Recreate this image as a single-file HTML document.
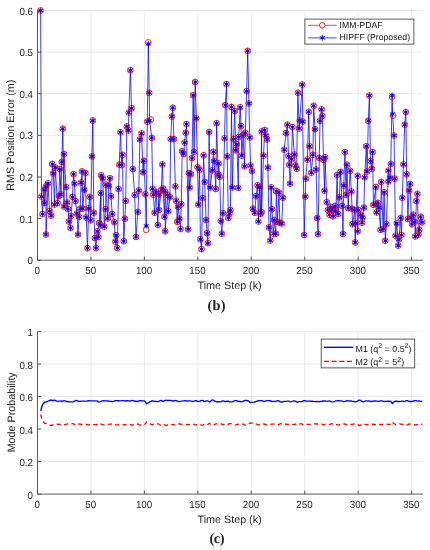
<!DOCTYPE html>
<html><head><meta charset="utf-8"><title>Figure</title>
<style>html,body{margin:0;padding:0;background:#fff}svg{display:block}</style>
</head><body>
<svg width="430" height="550" viewBox="0 0 430 550" font-family="'Liberation Sans', Arial, sans-serif" text-rendering="geometricPrecision">
<rect width="430" height="550" fill="#fff"/>
<path d="M90.94 10.5V260.2M144.39 10.5V260.2M197.83 10.5V260.2M251.28 10.5V260.2M304.72 10.5V260.2M358.17 10.5V260.2M411.61 10.5V260.2M37.5 218.58H422.3M37.5 176.97H422.3M37.5 135.35H422.3M37.5 93.73H422.3M37.5 52.12H422.3M37.5 10.50H422.3" stroke="#e4e4e4" stroke-width="0.8" fill="none"/>
<path d="M37.5 10.5V260.2H422.8M37.50 260.2v-3.6M90.94 260.2v-3.6M144.39 260.2v-3.6M197.83 260.2v-3.6M251.28 260.2v-3.6M304.72 260.2v-3.6M358.17 260.2v-3.6M411.61 260.2v-3.6M37.5 260.20h3.6M37.5 218.58h3.6M37.5 176.97h3.6M37.5 135.35h3.6M37.5 93.73h3.6M37.5 52.12h3.6M37.5 10.50h3.6" stroke="#484848" stroke-width="0.9" fill="none"/>
<text transform="translate(37.20 274.4) scale(1 1.05)" font-size="9.8" fill="#262626" text-anchor="middle">0</text>
<text transform="translate(90.64 274.4) scale(1 1.05)" font-size="9.8" fill="#262626" text-anchor="middle">50</text>
<text transform="translate(144.09 274.4) scale(1 1.05)" font-size="9.8" fill="#262626" text-anchor="middle">100</text>
<text transform="translate(197.53 274.4) scale(1 1.05)" font-size="9.8" fill="#262626" text-anchor="middle">150</text>
<text transform="translate(250.98 274.4) scale(1 1.05)" font-size="9.8" fill="#262626" text-anchor="middle">200</text>
<text transform="translate(304.42 274.4) scale(1 1.05)" font-size="9.8" fill="#262626" text-anchor="middle">250</text>
<text transform="translate(357.87 274.4) scale(1 1.05)" font-size="9.8" fill="#262626" text-anchor="middle">300</text>
<text transform="translate(411.31 274.4) scale(1 1.05)" font-size="9.8" fill="#262626" text-anchor="middle">350</text>
<text transform="translate(33.0 264.20) scale(1 1.05)" font-size="9.8" fill="#262626" text-anchor="end">0</text>
<text transform="translate(33.0 222.58) scale(1 1.05)" font-size="9.8" fill="#262626" text-anchor="end">0.1</text>
<text transform="translate(33.0 180.97) scale(1 1.05)" font-size="9.8" fill="#262626" text-anchor="end">0.2</text>
<text transform="translate(33.0 139.35) scale(1 1.05)" font-size="9.8" fill="#262626" text-anchor="end">0.3</text>
<text transform="translate(33.0 97.73) scale(1 1.05)" font-size="9.8" fill="#262626" text-anchor="end">0.4</text>
<text transform="translate(33.0 56.12) scale(1 1.05)" font-size="9.8" fill="#262626" text-anchor="end">0.5</text>
<text transform="translate(33.0 14.50) scale(1 1.05)" font-size="9.8" fill="#262626" text-anchor="end">0.6</text>
<text x="229.6" y="289.0" font-size="10.75" fill="#262626" text-anchor="middle">Time Step (k)</text>
<text transform="translate(14.1 135.2) rotate(-90)" font-size="10.75" fill="#262626" text-anchor="middle">RMS Position Error (m)</text>
<path d="M40.6 10.5 L41.5 196.5 L42.5 214.0 L44.0 189.5 L44.5 203.0 L46.0 186.5 L46.0 234.5 L48.0 183.5 L49.5 211.0 L51.2 215.5 L52.3 164.0 L53.3 173.4 L54.5 204.5 L55.2 167.6 L57.5 203.0 L59.0 196.0 L59.8 169.0 L61.0 194.5 L61.8 161.9 L62.8 128.7 L64.0 206.5 L64.0 154.0 L66.0 187.0 L67.0 202.5 L68.0 209.0 L69.0 221.5 L70.5 228.0 L71.0 216.0 L72.5 197.0 L73.5 174.2 L74.5 183.5 L75.5 201.0 L77.0 213.5 L78.0 234.5 L79.1 216.8 L80.2 208.7 L81.1 182.6 L82.1 171.4 L82.7 208.7 L84.3 189.9 L85.4 173.1 L86.2 217.4 L87.5 248.1 L88.6 208.4 L89.7 196.9 L90.6 220.3 L91.9 156.4 L92.8 120.6 L93.8 212.7 L94.9 238.0 L96.0 248.1 L97.3 231.3 L98.4 236.9 L99.2 223.0 L100.7 193.1 L100.7 225.3 L101.2 175.3 L102.7 178.4 L104.3 226.6 L105.6 209.2 L105.9 184.7 L107.8 218.4 L108.8 185.8 L109.9 178.2 L111.0 196.2 L112.2 214.0 L114.3 222.2 L115.4 241.6 L116.2 235.3 L117.3 248.0 L118.6 189.1 L119.3 164.7 L120.5 132.3 L121.7 165.1 L122.5 154.8 L123.8 241.2 L124.9 218.7 L125.7 201.0 L126.8 126.5 L128.4 130.4 L128.8 112.6 L130.4 70.2 L131.5 108.3 L132.8 169.0 L134.7 195.0 L136.0 236.9 L137.9 211.9 L138.8 190.5 L139.9 139.4 L141.5 133.4 L143.1 172.3 L143.9 160.8 L145.4 194.2 L146.2 225.8 L147.3 121.6 L148.3 43.9 L149.2 92.8 L149.6 120.6 L151.8 137.9 L152.6 188.7 L153.3 194.7 L154.6 212.7 L156.2 191.8 L157.8 225.0 L158.9 194.2 L158.9 210.0 L161.3 189.9 L162.4 164.4 L163.2 188.7 L164.4 216.8 L165.2 191.8 L165.2 231.3 L167.5 194.7 L168.3 211.1 L169.9 197.3 L170.7 139.1 L171.8 116.5 L172.8 107.8 L173.9 139.1 L175.4 186.3 L176.2 200.8 L177.3 221.9 L178.1 206.8 L179.4 218.7 L180.5 229.0 L181.3 204.1 L182.2 151.3 L183.7 154.0 L184.6 142.6 L185.7 132.8 L186.5 124.1 L188.1 229.3 L188.9 173.0 L189.7 187.5 L190.8 174.2 L192.0 158.1 L193.2 95.2 L194.1 151.8 L195.2 82.0 L196.3 118.4 L197.6 167.1 L198.4 204.5 L199.6 169.8 L200.4 239.3 L201.5 249.1 L202.6 198.1 L203.6 155.3 L204.7 181.9 L206.0 220.0 L207.1 233.2 L207.9 243.2 L209.1 132.0 L210.2 187.4 L212.3 170.3 L213.4 151.8 L214.2 161.1 L215.8 189.0 L216.6 123.2 L218.1 174.2 L218.6 163.5 L219.7 176.8 L220.8 221.1 L221.8 233.7 L222.9 213.2 L224.5 138.3 L225.3 105.1 L226.5 84.1 L227.2 156.4 L228.4 217.9 L229.5 213.6 L230.4 210.0 L231.5 107.0 L232.3 187.4 L233.6 139.0 L234.7 111.0 L235.8 150.2 L236.8 144.2 L238.3 187.9 L238.7 137.1 L240.2 107.3 L241.0 126.0 L241.8 155.6 L243.1 135.0 L244.5 166.3 L245.3 132.8 L246.6 91.2 L247.7 50.9 L248.9 103.4 L249.7 137.4 L250.5 165.5 L252.1 171.1 L252.9 208.7 L254.8 212.7 L256.0 196.2 L257.6 185.2 L258.4 221.5 L259.5 187.4 L260.5 214.0 L261.6 131.5 L261.6 212.1 L263.5 155.6 L264.7 130.0 L265.9 135.5 L267.1 139.4 L267.9 167.6 L269.0 227.4 L270.3 240.5 L271.1 187.4 L271.9 209.2 L273.4 233.7 L274.2 220.0 L275.8 233.7 L276.3 191.0 L277.4 221.9 L279.0 192.6 L279.8 222.7 L281.7 223.4 L282.9 197.7 L284.2 149.7 L286.1 133.1 L287.4 124.7 L288.5 156.0 L289.3 164.7 L290.0 183.6 L291.6 159.2 L292.4 127.1 L294.4 154.5 L295.5 165.5 L296.6 168.7 L297.9 92.8 L299.2 128.4 L299.8 120.5 L302.3 84.6 L302.7 121.6 L304.2 235.0 L305.3 196.6 L305.8 178.7 L307.4 159.5 L308.7 111.8 L309.5 146.2 L311.3 172.7 L312.9 154.8 L313.7 105.8 L315.0 129.2 L316.1 169.5 L317.2 217.9 L318.1 234.0 L319.3 157.9 L320.0 120.8 L321.6 109.4 L322.4 116.0 L323.5 160.0 L324.5 190.7 L325.1 157.3 L326.7 202.1 L328.0 210.0 L329.5 214.7 L330.3 206.8 L331.4 210.0 L332.7 207.6 L333.0 216.3 L335.1 206.0 L335.9 211.6 L337.1 175.0 L338.2 214.0 L339.3 197.3 L340.6 171.9 L342.2 206.0 L343.0 234.0 L343.8 185.5 L344.9 152.1 L346.1 195.0 L346.9 164.7 L348.2 208.1 L350.1 170.8 L351.4 191.5 L352.0 208.7 L352.5 224.2 L354.8 210.0 L355.2 242.4 L355.6 223.4 L357.7 175.8 L357.7 231.3 L358.4 210.0 L360.7 214.7 L362.0 222.7 L362.6 217.4 L363.9 207.6 L364.7 177.4 L366.3 146.2 L367.1 171.5 L368.3 120.8 L369.4 95.5 L370.5 161.1 L371.8 168.7 L372.6 152.1 L373.4 204.8 L375.8 187.1 L375.8 204.1 L376.6 212.4 L378.1 202.9 L378.9 207.6 L380.5 229.8 L381.3 181.9 L383.2 229.0 L384.1 192.3 L385.3 240.8 L386.4 224.2 L388.4 170.6 L388.4 181.5 L390.0 177.6 L390.8 164.0 L392.1 95.5 L392.6 114.0 L394.0 135.5 L394.7 178.7 L395.5 235.8 L396.8 223.4 L398.2 245.6 L399.0 239.3 L400.6 217.9 L401.5 235.0 L402.3 197.8 L403.4 164.4 L404.7 124.7 L405.8 112.1 L406.6 174.2 L407.9 219.0 L409.0 190.5 L410.1 183.9 L411.3 217.4 L412.1 224.2 L413.2 214.7 L414.8 221.9 L415.3 236.4 L416.4 201.0 L417.4 193.9 L418.5 234.5 L419.3 229.8 L420.8 216.8 L422.1 222.2" stroke="#0000ff" stroke-width="0.75" fill="none" stroke-linejoin="round"/>
<defs><circle id="r" r="2.9" fill="none" stroke="#ff0000" stroke-width="0.85"/><g id="s"><path d="M0 -3.1V3.1M-2.68 -1.55L2.68 1.55M-2.68 1.55L2.68 -1.55" stroke="#0000ff" stroke-width="0.75"/><circle r="1.55" fill="#0000ff"/></g></defs>
<use href="#r" x="40.6" y="10.5"/><use href="#s" x="40.6" y="10.5"/>
<use href="#r" x="41.5" y="196.5"/><use href="#s" x="41.5" y="196.5"/>
<use href="#r" x="42.5" y="214.0"/><use href="#s" x="42.5" y="214.0"/>
<use href="#r" x="44.0" y="189.5"/><use href="#s" x="44.0" y="189.5"/>
<use href="#r" x="44.5" y="203.0"/><use href="#s" x="44.5" y="203.0"/>
<use href="#r" x="46.0" y="186.5"/><use href="#s" x="46.0" y="186.5"/>
<use href="#r" x="46.0" y="234.5"/><use href="#s" x="46.0" y="234.5"/>
<use href="#r" x="48.0" y="183.5"/><use href="#s" x="48.0" y="183.5"/>
<use href="#r" x="49.5" y="211.0"/><use href="#s" x="49.5" y="211.0"/>
<use href="#r" x="51.2" y="215.5"/><use href="#s" x="51.2" y="215.5"/>
<use href="#r" x="52.3" y="164.0"/><use href="#s" x="52.3" y="164.0"/>
<use href="#r" x="53.3" y="173.4"/><use href="#s" x="53.3" y="173.4"/>
<use href="#r" x="54.5" y="204.5"/><use href="#s" x="54.5" y="204.5"/>
<use href="#r" x="55.2" y="167.6"/><use href="#s" x="55.2" y="167.6"/>
<use href="#r" x="57.5" y="203.0"/><use href="#s" x="57.5" y="203.0"/>
<use href="#r" x="59.0" y="196.0"/><use href="#s" x="59.0" y="196.0"/>
<use href="#r" x="59.8" y="169.0"/><use href="#s" x="59.8" y="169.0"/>
<use href="#r" x="61.0" y="194.5"/><use href="#s" x="61.0" y="194.5"/>
<use href="#r" x="61.8" y="161.9"/><use href="#s" x="61.8" y="161.9"/>
<use href="#r" x="62.8" y="128.7"/><use href="#s" x="62.8" y="128.7"/>
<use href="#r" x="64.0" y="206.5"/><use href="#s" x="64.0" y="206.5"/>
<use href="#r" x="64.0" y="154.0"/><use href="#s" x="64.0" y="154.0"/>
<use href="#r" x="66.0" y="187.0"/><use href="#s" x="66.0" y="187.0"/>
<use href="#r" x="67.0" y="202.5"/><use href="#s" x="67.0" y="202.5"/>
<use href="#r" x="68.0" y="209.0"/><use href="#s" x="68.0" y="209.0"/>
<use href="#r" x="69.0" y="221.5"/><use href="#s" x="69.0" y="221.5"/>
<use href="#r" x="70.5" y="228.0"/><use href="#s" x="70.5" y="228.0"/>
<use href="#r" x="71.0" y="216.0"/><use href="#s" x="71.0" y="216.0"/>
<use href="#r" x="72.5" y="197.0"/><use href="#s" x="72.5" y="197.0"/>
<use href="#r" x="73.5" y="174.2"/><use href="#s" x="73.5" y="174.2"/>
<use href="#r" x="74.5" y="183.5"/><use href="#s" x="74.5" y="183.5"/>
<use href="#r" x="75.5" y="201.0"/><use href="#s" x="75.5" y="201.0"/>
<use href="#r" x="77.0" y="213.5"/><use href="#s" x="77.0" y="213.5"/>
<use href="#r" x="78.0" y="234.5"/><use href="#s" x="78.0" y="234.5"/>
<use href="#r" x="79.1" y="216.8"/><use href="#s" x="79.1" y="216.8"/>
<use href="#r" x="80.2" y="208.7"/><use href="#s" x="80.2" y="208.7"/>
<use href="#r" x="81.1" y="182.6"/><use href="#s" x="81.1" y="182.6"/>
<use href="#r" x="82.1" y="171.4"/><use href="#s" x="82.1" y="171.4"/>
<use href="#r" x="82.7" y="208.7"/><use href="#s" x="82.7" y="208.7"/>
<use href="#r" x="84.3" y="189.9"/><use href="#s" x="84.3" y="189.9"/>
<use href="#r" x="85.4" y="173.1"/><use href="#s" x="85.4" y="173.1"/>
<use href="#r" x="86.2" y="217.4"/><use href="#s" x="86.2" y="217.4"/>
<use href="#r" x="87.5" y="248.1"/><use href="#s" x="87.5" y="248.1"/>
<use href="#r" x="88.6" y="208.4"/><use href="#s" x="88.6" y="208.4"/>
<use href="#r" x="89.7" y="196.9"/><use href="#s" x="89.7" y="196.9"/>
<use href="#r" x="90.6" y="220.3"/><use href="#s" x="90.6" y="220.3"/>
<use href="#r" x="91.9" y="156.4"/><use href="#s" x="91.9" y="156.4"/>
<use href="#r" x="92.8" y="120.6"/><use href="#s" x="92.8" y="120.6"/>
<use href="#r" x="93.8" y="212.7"/><use href="#s" x="93.8" y="212.7"/>
<use href="#r" x="94.9" y="238.0"/><use href="#s" x="94.9" y="238.0"/>
<use href="#r" x="96.0" y="248.1"/><use href="#s" x="96.0" y="248.1"/>
<use href="#r" x="97.3" y="231.3"/><use href="#s" x="97.3" y="231.3"/>
<use href="#r" x="98.4" y="236.9"/><use href="#s" x="98.4" y="236.9"/>
<use href="#r" x="99.2" y="223.0"/><use href="#s" x="99.2" y="223.0"/>
<use href="#r" x="100.7" y="193.1"/><use href="#s" x="100.7" y="193.1"/>
<use href="#r" x="100.7" y="225.3"/><use href="#s" x="100.7" y="225.3"/>
<use href="#r" x="101.2" y="175.3"/><use href="#s" x="101.2" y="175.3"/>
<use href="#r" x="102.7" y="178.4"/><use href="#s" x="102.7" y="178.4"/>
<use href="#r" x="104.3" y="226.6"/><use href="#s" x="104.3" y="226.6"/>
<use href="#r" x="105.6" y="209.2"/><use href="#s" x="105.6" y="209.2"/>
<use href="#r" x="105.9" y="184.7"/><use href="#s" x="105.9" y="184.7"/>
<use href="#r" x="107.8" y="218.4"/><use href="#s" x="107.8" y="218.4"/>
<use href="#r" x="108.8" y="185.8"/><use href="#s" x="108.8" y="185.8"/>
<use href="#r" x="109.9" y="178.2"/><use href="#s" x="109.9" y="178.2"/>
<use href="#r" x="111.0" y="196.2"/><use href="#s" x="111.0" y="196.2"/>
<use href="#r" x="112.2" y="214.0"/><use href="#s" x="112.2" y="214.0"/>
<use href="#r" x="114.3" y="222.2"/><use href="#s" x="114.3" y="222.2"/>
<use href="#r" x="115.4" y="241.6"/><use href="#s" x="115.4" y="241.6"/>
<use href="#r" x="116.2" y="235.3"/><use href="#s" x="116.2" y="235.3"/>
<use href="#r" x="117.3" y="248.0"/><use href="#s" x="117.3" y="248.0"/>
<use href="#r" x="118.6" y="189.1"/><use href="#s" x="118.6" y="189.1"/>
<use href="#r" x="119.3" y="164.7"/><use href="#s" x="119.3" y="164.7"/>
<use href="#r" x="120.5" y="132.3"/><use href="#s" x="120.5" y="132.3"/>
<use href="#r" x="121.7" y="165.1"/><use href="#s" x="121.7" y="165.1"/>
<use href="#r" x="122.5" y="154.8"/><use href="#s" x="122.5" y="154.8"/>
<use href="#r" x="123.8" y="241.2"/><use href="#s" x="123.8" y="241.2"/>
<use href="#r" x="124.9" y="218.7"/><use href="#s" x="124.9" y="218.7"/>
<use href="#r" x="125.7" y="201.0"/><use href="#s" x="125.7" y="201.0"/>
<use href="#r" x="126.8" y="126.5"/><use href="#s" x="126.8" y="126.5"/>
<use href="#r" x="128.4" y="130.4"/><use href="#s" x="128.4" y="130.4"/>
<use href="#r" x="128.8" y="112.6"/><use href="#s" x="128.8" y="112.6"/>
<use href="#r" x="130.4" y="70.2"/><use href="#s" x="130.4" y="70.2"/>
<use href="#r" x="131.5" y="108.3"/><use href="#s" x="131.5" y="108.3"/>
<use href="#r" x="132.8" y="169.0"/><use href="#s" x="132.8" y="169.0"/>
<use href="#r" x="134.7" y="195.0"/><use href="#s" x="134.7" y="195.0"/>
<use href="#r" x="136.0" y="236.9"/><use href="#s" x="136.0" y="236.9"/>
<use href="#r" x="137.9" y="211.9"/><use href="#s" x="137.9" y="211.9"/>
<use href="#r" x="138.8" y="190.5"/><use href="#s" x="138.8" y="190.5"/>
<use href="#r" x="139.9" y="139.4"/><use href="#s" x="139.9" y="139.4"/>
<use href="#r" x="141.5" y="133.4"/><use href="#s" x="141.5" y="133.4"/>
<use href="#r" x="143.1" y="172.3"/><use href="#s" x="143.1" y="172.3"/>
<use href="#r" x="143.9" y="160.8"/><use href="#s" x="143.9" y="160.8"/>
<use href="#r" x="145.4" y="194.2"/><use href="#s" x="145.4" y="194.2"/>
<use href="#r" x="146.2" y="229.8"/><use href="#s" x="146.2" y="225.8"/>
<use href="#r" x="147.3" y="121.6"/><use href="#s" x="147.3" y="121.6"/>
<use href="#r" x="148.3" y="42.4"/><use href="#s" x="148.3" y="43.9"/>
<use href="#r" x="149.2" y="92.8"/><use href="#s" x="149.2" y="92.8"/>
<use href="#r" x="150.8" y="119.5"/><use href="#s" x="149.6" y="120.6"/>
<use href="#r" x="151.8" y="137.9"/><use href="#s" x="151.8" y="137.9"/>
<use href="#r" x="152.6" y="188.7"/><use href="#s" x="152.6" y="188.7"/>
<use href="#r" x="153.3" y="194.7"/><use href="#s" x="153.3" y="194.7"/>
<use href="#r" x="154.6" y="212.7"/><use href="#s" x="154.6" y="212.7"/>
<use href="#r" x="156.2" y="191.8"/><use href="#s" x="156.2" y="191.8"/>
<use href="#r" x="157.8" y="225.0"/><use href="#s" x="157.8" y="225.0"/>
<use href="#r" x="158.9" y="194.2"/><use href="#s" x="158.9" y="194.2"/>
<use href="#r" x="158.9" y="210.0"/><use href="#s" x="158.9" y="210.0"/>
<use href="#r" x="161.3" y="189.9"/><use href="#s" x="161.3" y="189.9"/>
<use href="#r" x="162.4" y="164.4"/><use href="#s" x="162.4" y="164.4"/>
<use href="#r" x="163.2" y="188.7"/><use href="#s" x="163.2" y="188.7"/>
<use href="#r" x="164.4" y="216.8"/><use href="#s" x="164.4" y="216.8"/>
<use href="#r" x="165.2" y="191.8"/><use href="#s" x="165.2" y="191.8"/>
<use href="#r" x="165.2" y="231.3"/><use href="#s" x="165.2" y="231.3"/>
<use href="#r" x="167.5" y="194.7"/><use href="#s" x="167.5" y="194.7"/>
<use href="#r" x="168.3" y="211.1"/><use href="#s" x="168.3" y="211.1"/>
<use href="#r" x="169.9" y="197.3"/><use href="#s" x="169.9" y="197.3"/>
<use href="#r" x="170.7" y="139.1"/><use href="#s" x="170.7" y="139.1"/>
<use href="#r" x="171.8" y="116.5"/><use href="#s" x="171.8" y="116.5"/>
<use href="#r" x="172.8" y="107.8"/><use href="#s" x="172.8" y="107.8"/>
<use href="#r" x="173.9" y="139.1"/><use href="#s" x="173.9" y="139.1"/>
<use href="#r" x="175.4" y="186.3"/><use href="#s" x="175.4" y="186.3"/>
<use href="#r" x="176.2" y="200.8"/><use href="#s" x="176.2" y="200.8"/>
<use href="#r" x="177.3" y="221.9"/><use href="#s" x="177.3" y="221.9"/>
<use href="#r" x="178.1" y="206.8"/><use href="#s" x="178.1" y="206.8"/>
<use href="#r" x="179.4" y="218.7"/><use href="#s" x="179.4" y="218.7"/>
<use href="#r" x="180.5" y="229.0"/><use href="#s" x="180.5" y="229.0"/>
<use href="#r" x="181.3" y="204.1"/><use href="#s" x="181.3" y="204.1"/>
<use href="#r" x="182.2" y="151.3"/><use href="#s" x="182.2" y="151.3"/>
<use href="#r" x="183.7" y="154.0"/><use href="#s" x="183.7" y="154.0"/>
<use href="#r" x="184.6" y="142.6"/><use href="#s" x="184.6" y="142.6"/>
<use href="#r" x="185.7" y="132.8"/><use href="#s" x="185.7" y="132.8"/>
<use href="#r" x="186.5" y="124.1"/><use href="#s" x="186.5" y="124.1"/>
<use href="#r" x="188.1" y="229.3"/><use href="#s" x="188.1" y="229.3"/>
<use href="#r" x="188.9" y="173.0"/><use href="#s" x="188.9" y="173.0"/>
<use href="#r" x="189.7" y="187.5"/><use href="#s" x="189.7" y="187.5"/>
<use href="#r" x="190.8" y="174.2"/><use href="#s" x="190.8" y="174.2"/>
<use href="#r" x="192.0" y="158.1"/><use href="#s" x="192.0" y="158.1"/>
<use href="#r" x="193.2" y="95.2"/><use href="#s" x="193.2" y="95.2"/>
<use href="#r" x="194.1" y="151.8"/><use href="#s" x="194.1" y="151.8"/>
<use href="#r" x="195.2" y="82.0"/><use href="#s" x="195.2" y="82.0"/>
<use href="#r" x="196.3" y="118.4"/><use href="#s" x="196.3" y="118.4"/>
<use href="#r" x="197.6" y="167.1"/><use href="#s" x="197.6" y="167.1"/>
<use href="#r" x="198.4" y="204.5"/><use href="#s" x="198.4" y="204.5"/>
<use href="#r" x="199.6" y="169.8"/><use href="#s" x="199.6" y="169.8"/>
<use href="#r" x="200.4" y="239.3"/><use href="#s" x="200.4" y="239.3"/>
<use href="#r" x="201.5" y="249.1"/><use href="#s" x="201.5" y="249.1"/>
<use href="#r" x="202.6" y="198.1"/><use href="#s" x="202.6" y="198.1"/>
<use href="#r" x="203.6" y="155.3"/><use href="#s" x="203.6" y="155.3"/>
<use href="#r" x="204.7" y="181.9"/><use href="#s" x="204.7" y="181.9"/>
<use href="#r" x="206.0" y="220.0"/><use href="#s" x="206.0" y="220.0"/>
<use href="#r" x="207.1" y="233.2"/><use href="#s" x="207.1" y="233.2"/>
<use href="#r" x="207.9" y="243.2"/><use href="#s" x="207.9" y="243.2"/>
<use href="#r" x="209.1" y="132.0"/><use href="#s" x="209.1" y="132.0"/>
<use href="#r" x="210.2" y="187.4"/><use href="#s" x="210.2" y="187.4"/>
<use href="#r" x="212.3" y="170.3"/><use href="#s" x="212.3" y="170.3"/>
<use href="#r" x="213.4" y="151.8"/><use href="#s" x="213.4" y="151.8"/>
<use href="#r" x="214.2" y="161.1"/><use href="#s" x="214.2" y="161.1"/>
<use href="#r" x="215.8" y="189.0"/><use href="#s" x="215.8" y="189.0"/>
<use href="#r" x="216.6" y="123.2"/><use href="#s" x="216.6" y="123.2"/>
<use href="#r" x="218.1" y="174.2"/><use href="#s" x="218.1" y="174.2"/>
<use href="#r" x="218.6" y="163.5"/><use href="#s" x="218.6" y="163.5"/>
<use href="#r" x="219.7" y="176.8"/><use href="#s" x="219.7" y="176.8"/>
<use href="#r" x="220.8" y="221.1"/><use href="#s" x="220.8" y="221.1"/>
<use href="#r" x="221.8" y="233.7"/><use href="#s" x="221.8" y="233.7"/>
<use href="#r" x="222.9" y="213.2"/><use href="#s" x="222.9" y="213.2"/>
<use href="#r" x="224.5" y="138.3"/><use href="#s" x="224.5" y="138.3"/>
<use href="#r" x="225.3" y="105.1"/><use href="#s" x="225.3" y="105.1"/>
<use href="#r" x="226.5" y="84.1"/><use href="#s" x="226.5" y="84.1"/>
<use href="#r" x="227.2" y="156.4"/><use href="#s" x="227.2" y="156.4"/>
<use href="#r" x="228.4" y="217.9"/><use href="#s" x="228.4" y="217.9"/>
<use href="#r" x="229.5" y="213.6"/><use href="#s" x="229.5" y="213.6"/>
<use href="#r" x="230.4" y="210.0"/><use href="#s" x="230.4" y="210.0"/>
<use href="#r" x="231.5" y="107.0"/><use href="#s" x="231.5" y="107.0"/>
<use href="#r" x="232.3" y="187.4"/><use href="#s" x="232.3" y="187.4"/>
<use href="#r" x="233.6" y="139.0"/><use href="#s" x="233.6" y="139.0"/>
<use href="#r" x="234.7" y="111.0"/><use href="#s" x="234.7" y="111.0"/>
<use href="#r" x="235.8" y="150.2"/><use href="#s" x="235.8" y="150.2"/>
<use href="#r" x="236.8" y="144.2"/><use href="#s" x="236.8" y="144.2"/>
<use href="#r" x="238.3" y="187.9"/><use href="#s" x="238.3" y="187.9"/>
<use href="#r" x="238.7" y="137.1"/><use href="#s" x="238.7" y="137.1"/>
<use href="#r" x="240.2" y="107.3"/><use href="#s" x="240.2" y="107.3"/>
<use href="#r" x="241.0" y="126.0"/><use href="#s" x="241.0" y="126.0"/>
<use href="#r" x="241.8" y="155.6"/><use href="#s" x="241.8" y="155.6"/>
<use href="#r" x="243.1" y="135.0"/><use href="#s" x="243.1" y="135.0"/>
<use href="#r" x="244.5" y="166.3"/><use href="#s" x="244.5" y="166.3"/>
<use href="#r" x="245.3" y="132.8"/><use href="#s" x="245.3" y="132.8"/>
<use href="#r" x="246.6" y="91.2"/><use href="#s" x="246.6" y="91.2"/>
<use href="#r" x="247.7" y="50.9"/><use href="#s" x="247.7" y="50.9"/>
<use href="#r" x="248.9" y="103.4"/><use href="#s" x="248.9" y="103.4"/>
<use href="#r" x="249.7" y="137.4"/><use href="#s" x="249.7" y="137.4"/>
<use href="#r" x="250.5" y="165.5"/><use href="#s" x="250.5" y="165.5"/>
<use href="#r" x="252.1" y="171.1"/><use href="#s" x="252.1" y="171.1"/>
<use href="#r" x="252.9" y="208.7"/><use href="#s" x="252.9" y="208.7"/>
<use href="#r" x="254.8" y="212.7"/><use href="#s" x="254.8" y="212.7"/>
<use href="#r" x="256.0" y="196.2"/><use href="#s" x="256.0" y="196.2"/>
<use href="#r" x="257.6" y="185.2"/><use href="#s" x="257.6" y="185.2"/>
<use href="#r" x="258.4" y="221.5"/><use href="#s" x="258.4" y="221.5"/>
<use href="#r" x="259.5" y="187.4"/><use href="#s" x="259.5" y="187.4"/>
<use href="#r" x="260.5" y="214.0"/><use href="#s" x="260.5" y="214.0"/>
<use href="#r" x="261.6" y="131.5"/><use href="#s" x="261.6" y="131.5"/>
<use href="#r" x="261.6" y="212.1"/><use href="#s" x="261.6" y="212.1"/>
<use href="#r" x="263.5" y="155.6"/><use href="#s" x="263.5" y="155.6"/>
<use href="#r" x="264.7" y="130.0"/><use href="#s" x="264.7" y="130.0"/>
<use href="#r" x="265.9" y="135.5"/><use href="#s" x="265.9" y="135.5"/>
<use href="#r" x="267.1" y="139.4"/><use href="#s" x="267.1" y="139.4"/>
<use href="#r" x="267.9" y="167.6"/><use href="#s" x="267.9" y="167.6"/>
<use href="#r" x="269.0" y="227.4"/><use href="#s" x="269.0" y="227.4"/>
<use href="#r" x="270.3" y="240.5"/><use href="#s" x="270.3" y="240.5"/>
<use href="#r" x="271.1" y="187.4"/><use href="#s" x="271.1" y="187.4"/>
<use href="#r" x="271.9" y="209.2"/><use href="#s" x="271.9" y="209.2"/>
<use href="#r" x="273.4" y="233.7"/><use href="#s" x="273.4" y="233.7"/>
<use href="#r" x="274.2" y="220.0"/><use href="#s" x="274.2" y="220.0"/>
<use href="#r" x="275.8" y="233.7"/><use href="#s" x="275.8" y="233.7"/>
<use href="#r" x="276.3" y="191.0"/><use href="#s" x="276.3" y="191.0"/>
<use href="#r" x="277.4" y="221.9"/><use href="#s" x="277.4" y="221.9"/>
<use href="#r" x="279.0" y="192.6"/><use href="#s" x="279.0" y="192.6"/>
<use href="#r" x="279.8" y="222.7"/><use href="#s" x="279.8" y="222.7"/>
<use href="#r" x="281.7" y="223.4"/><use href="#s" x="281.7" y="223.4"/>
<use href="#r" x="282.9" y="197.7"/><use href="#s" x="282.9" y="197.7"/>
<use href="#r" x="284.2" y="149.7"/><use href="#s" x="284.2" y="149.7"/>
<use href="#r" x="286.1" y="133.1"/><use href="#s" x="286.1" y="133.1"/>
<use href="#r" x="287.4" y="124.7"/><use href="#s" x="287.4" y="124.7"/>
<use href="#r" x="288.5" y="156.0"/><use href="#s" x="288.5" y="156.0"/>
<use href="#r" x="289.3" y="164.7"/><use href="#s" x="289.3" y="164.7"/>
<use href="#r" x="290.0" y="183.6"/><use href="#s" x="290.0" y="183.6"/>
<use href="#r" x="291.6" y="159.2"/><use href="#s" x="291.6" y="159.2"/>
<use href="#r" x="292.4" y="127.1"/><use href="#s" x="292.4" y="127.1"/>
<use href="#r" x="294.4" y="154.5"/><use href="#s" x="294.4" y="154.5"/>
<use href="#r" x="295.5" y="165.5"/><use href="#s" x="295.5" y="165.5"/>
<use href="#r" x="296.6" y="168.7"/><use href="#s" x="296.6" y="168.7"/>
<use href="#r" x="297.9" y="92.8"/><use href="#s" x="297.9" y="92.8"/>
<use href="#r" x="299.2" y="128.4"/><use href="#s" x="299.2" y="128.4"/>
<use href="#r" x="299.8" y="120.5"/><use href="#s" x="299.8" y="120.5"/>
<use href="#r" x="302.3" y="84.6"/><use href="#s" x="302.3" y="84.6"/>
<use href="#r" x="302.7" y="121.6"/><use href="#s" x="302.7" y="121.6"/>
<use href="#r" x="304.2" y="235.0"/><use href="#s" x="304.2" y="235.0"/>
<use href="#r" x="305.3" y="196.6"/><use href="#s" x="305.3" y="196.6"/>
<use href="#r" x="305.8" y="178.7"/><use href="#s" x="305.8" y="178.7"/>
<use href="#r" x="307.4" y="159.5"/><use href="#s" x="307.4" y="159.5"/>
<use href="#r" x="308.7" y="111.8"/><use href="#s" x="308.7" y="111.8"/>
<use href="#r" x="309.5" y="146.2"/><use href="#s" x="309.5" y="146.2"/>
<use href="#r" x="311.3" y="172.7"/><use href="#s" x="311.3" y="172.7"/>
<use href="#r" x="312.9" y="154.8"/><use href="#s" x="312.9" y="154.8"/>
<use href="#r" x="313.7" y="105.8"/><use href="#s" x="313.7" y="105.8"/>
<use href="#r" x="315.0" y="129.2"/><use href="#s" x="315.0" y="129.2"/>
<use href="#r" x="316.1" y="169.5"/><use href="#s" x="316.1" y="169.5"/>
<use href="#r" x="317.2" y="217.9"/><use href="#s" x="317.2" y="217.9"/>
<use href="#r" x="318.1" y="234.0"/><use href="#s" x="318.1" y="234.0"/>
<use href="#r" x="319.3" y="157.9"/><use href="#s" x="319.3" y="157.9"/>
<use href="#r" x="320.0" y="120.8"/><use href="#s" x="320.0" y="120.8"/>
<use href="#r" x="321.6" y="109.4"/><use href="#s" x="321.6" y="109.4"/>
<use href="#r" x="322.4" y="116.0"/><use href="#s" x="322.4" y="116.0"/>
<use href="#r" x="323.5" y="160.0"/><use href="#s" x="323.5" y="160.0"/>
<use href="#r" x="324.5" y="190.7"/><use href="#s" x="324.5" y="190.7"/>
<use href="#r" x="325.1" y="157.3"/><use href="#s" x="325.1" y="157.3"/>
<use href="#r" x="326.7" y="202.1"/><use href="#s" x="326.7" y="202.1"/>
<use href="#r" x="328.0" y="210.0"/><use href="#s" x="328.0" y="210.0"/>
<use href="#r" x="329.5" y="214.7"/><use href="#s" x="329.5" y="214.7"/>
<use href="#r" x="330.3" y="206.8"/><use href="#s" x="330.3" y="206.8"/>
<use href="#r" x="331.4" y="210.0"/><use href="#s" x="331.4" y="210.0"/>
<use href="#r" x="332.7" y="207.6"/><use href="#s" x="332.7" y="207.6"/>
<use href="#r" x="333.0" y="216.3"/><use href="#s" x="333.0" y="216.3"/>
<use href="#r" x="335.1" y="206.0"/><use href="#s" x="335.1" y="206.0"/>
<use href="#r" x="335.9" y="211.6"/><use href="#s" x="335.9" y="211.6"/>
<use href="#r" x="337.1" y="175.0"/><use href="#s" x="337.1" y="175.0"/>
<use href="#r" x="338.2" y="214.0"/><use href="#s" x="338.2" y="214.0"/>
<use href="#r" x="339.3" y="197.3"/><use href="#s" x="339.3" y="197.3"/>
<use href="#r" x="340.6" y="171.9"/><use href="#s" x="340.6" y="171.9"/>
<use href="#r" x="342.2" y="206.0"/><use href="#s" x="342.2" y="206.0"/>
<use href="#r" x="343.0" y="234.0"/><use href="#s" x="343.0" y="234.0"/>
<use href="#r" x="343.8" y="185.5"/><use href="#s" x="343.8" y="185.5"/>
<use href="#r" x="344.9" y="152.1"/><use href="#s" x="344.9" y="152.1"/>
<use href="#r" x="346.1" y="195.0"/><use href="#s" x="346.1" y="195.0"/>
<use href="#r" x="346.9" y="164.7"/><use href="#s" x="346.9" y="164.7"/>
<use href="#r" x="348.2" y="208.1"/><use href="#s" x="348.2" y="208.1"/>
<use href="#r" x="350.1" y="170.8"/><use href="#s" x="350.1" y="170.8"/>
<use href="#r" x="351.4" y="191.5"/><use href="#s" x="351.4" y="191.5"/>
<use href="#r" x="352.0" y="208.7"/><use href="#s" x="352.0" y="208.7"/>
<use href="#r" x="352.5" y="224.2"/><use href="#s" x="352.5" y="224.2"/>
<use href="#r" x="354.8" y="210.0"/><use href="#s" x="354.8" y="210.0"/>
<use href="#r" x="355.2" y="242.4"/><use href="#s" x="355.2" y="242.4"/>
<use href="#r" x="355.6" y="223.4"/><use href="#s" x="355.6" y="223.4"/>
<use href="#r" x="357.7" y="175.8"/><use href="#s" x="357.7" y="175.8"/>
<use href="#r" x="357.7" y="231.3"/><use href="#s" x="357.7" y="231.3"/>
<use href="#r" x="358.4" y="210.0"/><use href="#s" x="358.4" y="210.0"/>
<use href="#r" x="360.7" y="214.7"/><use href="#s" x="360.7" y="214.7"/>
<use href="#r" x="362.0" y="222.7"/><use href="#s" x="362.0" y="222.7"/>
<use href="#r" x="362.6" y="217.4"/><use href="#s" x="362.6" y="217.4"/>
<use href="#r" x="363.9" y="207.6"/><use href="#s" x="363.9" y="207.6"/>
<use href="#r" x="364.7" y="177.4"/><use href="#s" x="364.7" y="177.4"/>
<use href="#r" x="366.3" y="146.2"/><use href="#s" x="366.3" y="146.2"/>
<use href="#r" x="367.1" y="171.5"/><use href="#s" x="367.1" y="171.5"/>
<use href="#r" x="368.3" y="120.8"/><use href="#s" x="368.3" y="120.8"/>
<use href="#r" x="369.4" y="95.5"/><use href="#s" x="369.4" y="95.5"/>
<use href="#r" x="370.5" y="161.1"/><use href="#s" x="370.5" y="161.1"/>
<use href="#r" x="371.8" y="168.7"/><use href="#s" x="371.8" y="168.7"/>
<use href="#r" x="372.6" y="152.1"/><use href="#s" x="372.6" y="152.1"/>
<use href="#r" x="373.4" y="204.8"/><use href="#s" x="373.4" y="204.8"/>
<use href="#r" x="375.8" y="187.1"/><use href="#s" x="375.8" y="187.1"/>
<use href="#r" x="375.8" y="204.1"/><use href="#s" x="375.8" y="204.1"/>
<use href="#r" x="376.6" y="212.4"/><use href="#s" x="376.6" y="212.4"/>
<use href="#r" x="378.1" y="202.9"/><use href="#s" x="378.1" y="202.9"/>
<use href="#r" x="378.9" y="207.6"/><use href="#s" x="378.9" y="207.6"/>
<use href="#r" x="380.5" y="229.8"/><use href="#s" x="380.5" y="229.8"/>
<use href="#r" x="381.3" y="181.9"/><use href="#s" x="381.3" y="181.9"/>
<use href="#r" x="383.2" y="229.0"/><use href="#s" x="383.2" y="229.0"/>
<use href="#r" x="384.1" y="192.3"/><use href="#s" x="384.1" y="192.3"/>
<use href="#r" x="385.3" y="240.8"/><use href="#s" x="385.3" y="240.8"/>
<use href="#r" x="386.4" y="224.2"/><use href="#s" x="386.4" y="224.2"/>
<use href="#r" x="388.4" y="170.6"/><use href="#s" x="388.4" y="170.6"/>
<use href="#r" x="388.4" y="181.5"/><use href="#s" x="388.4" y="181.5"/>
<use href="#r" x="390.0" y="177.6"/><use href="#s" x="390.0" y="177.6"/>
<use href="#r" x="390.8" y="164.0"/><use href="#s" x="390.8" y="164.0"/>
<use href="#r" x="392.1" y="96.9"/><use href="#s" x="392.1" y="95.5"/>
<use href="#r" x="393.0" y="115.6"/><use href="#s" x="392.6" y="114.0"/>
<use href="#r" x="394.0" y="135.5"/><use href="#s" x="394.0" y="135.5"/>
<use href="#r" x="394.7" y="178.7"/><use href="#s" x="394.7" y="178.7"/>
<use href="#r" x="395.5" y="235.8"/><use href="#s" x="395.5" y="235.8"/>
<use href="#r" x="396.8" y="223.4"/><use href="#s" x="396.8" y="223.4"/>
<use href="#r" x="398.2" y="245.6"/><use href="#s" x="398.2" y="245.6"/>
<use href="#r" x="399.0" y="239.3"/><use href="#s" x="399.0" y="239.3"/>
<use href="#r" x="400.6" y="217.9"/><use href="#s" x="400.6" y="217.9"/>
<use href="#r" x="401.5" y="235.0"/><use href="#s" x="401.5" y="235.0"/>
<use href="#r" x="402.3" y="197.8"/><use href="#s" x="402.3" y="197.8"/>
<use href="#r" x="403.4" y="164.4"/><use href="#s" x="403.4" y="164.4"/>
<use href="#r" x="404.7" y="124.7"/><use href="#s" x="404.7" y="124.7"/>
<use href="#r" x="405.8" y="112.1"/><use href="#s" x="405.8" y="112.1"/>
<use href="#r" x="406.6" y="174.2"/><use href="#s" x="406.6" y="174.2"/>
<use href="#r" x="407.9" y="219.0"/><use href="#s" x="407.9" y="219.0"/>
<use href="#r" x="409.0" y="190.5"/><use href="#s" x="409.0" y="190.5"/>
<use href="#r" x="410.1" y="183.9"/><use href="#s" x="410.1" y="183.9"/>
<use href="#r" x="411.3" y="217.4"/><use href="#s" x="411.3" y="217.4"/>
<use href="#r" x="412.1" y="224.2"/><use href="#s" x="412.1" y="224.2"/>
<use href="#r" x="413.2" y="214.7"/><use href="#s" x="413.2" y="214.7"/>
<use href="#r" x="414.8" y="221.9"/><use href="#s" x="414.8" y="221.9"/>
<use href="#r" x="415.3" y="236.4"/><use href="#s" x="415.3" y="236.4"/>
<use href="#r" x="416.4" y="201.0"/><use href="#s" x="416.4" y="201.0"/>
<use href="#r" x="417.4" y="193.9"/><use href="#s" x="417.4" y="193.9"/>
<use href="#r" x="418.5" y="234.5"/><use href="#s" x="418.5" y="234.5"/>
<use href="#r" x="419.3" y="229.8"/><use href="#s" x="419.3" y="229.8"/>
<use href="#r" x="420.8" y="216.8"/><use href="#s" x="420.8" y="216.8"/>
<use href="#r" x="422.1" y="222.2"/><use href="#s" x="422.1" y="222.2"/>
<rect x="304.9" y="19.1" width="109" height="25.0" fill="#fff" stroke="#333" stroke-width="0.8"/>
<path d="M308 25.3H336.6" stroke="#ff0000" stroke-width="0.75"/><circle cx="322.3" cy="25.3" r="2.8" fill="#fff" stroke="#ff0000" stroke-width="0.9"/>
<path d="M308 37.9H336.6" stroke="#0000ff" stroke-width="0.75"/><use href="#s" x="322.3" y="37.8"/>
<text x="339.6" y="28.2" font-size="8.7" fill="#111">IMM-PDAF</text>
<text x="339.6" y="40.4" font-size="8.7" fill="#111">HIPFF (Proposed)</text>
<text x="216.7" y="310" font-size="14.4" font-weight="bold" font-family="'Liberation Serif', serif" fill="#222" text-anchor="middle" letter-spacing="0.35">(b)</text>
<path d="M90.94 331.4V494.1M144.39 331.4V494.1M197.83 331.4V494.1M251.28 331.4V494.1M304.72 331.4V494.1M358.17 331.4V494.1M411.61 331.4V494.1M37.5 461.56H422.3M37.5 429.02H422.3M37.5 396.48H422.3M37.5 363.94H422.3M37.5 331.40H422.3" stroke="#e4e4e4" stroke-width="0.8" fill="none"/>
<path d="M37.5 331.4V494.1H422.8M37.50 494.1v-3.6M90.94 494.1v-3.6M144.39 494.1v-3.6M197.83 494.1v-3.6M251.28 494.1v-3.6M304.72 494.1v-3.6M358.17 494.1v-3.6M411.61 494.1v-3.6M37.5 494.10h3.6M37.5 461.56h3.6M37.5 429.02h3.6M37.5 396.48h3.6M37.5 363.94h3.6M37.5 331.40h3.6" stroke="#484848" stroke-width="0.9" fill="none"/>
<text transform="translate(37.20 508.4) scale(1 1.05)" font-size="9.8" fill="#262626" text-anchor="middle">0</text>
<text transform="translate(90.64 508.4) scale(1 1.05)" font-size="9.8" fill="#262626" text-anchor="middle">50</text>
<text transform="translate(144.09 508.4) scale(1 1.05)" font-size="9.8" fill="#262626" text-anchor="middle">100</text>
<text transform="translate(197.53 508.4) scale(1 1.05)" font-size="9.8" fill="#262626" text-anchor="middle">150</text>
<text transform="translate(250.98 508.4) scale(1 1.05)" font-size="9.8" fill="#262626" text-anchor="middle">200</text>
<text transform="translate(304.42 508.4) scale(1 1.05)" font-size="9.8" fill="#262626" text-anchor="middle">250</text>
<text transform="translate(357.87 508.4) scale(1 1.05)" font-size="9.8" fill="#262626" text-anchor="middle">300</text>
<text transform="translate(411.31 508.4) scale(1 1.05)" font-size="9.8" fill="#262626" text-anchor="middle">350</text>
<text transform="translate(33.0 498.70) scale(1 1.05)" font-size="9.8" fill="#262626" text-anchor="end">0</text>
<text transform="translate(33.0 466.16) scale(1 1.05)" font-size="9.8" fill="#262626" text-anchor="end">0.2</text>
<text transform="translate(33.0 433.62) scale(1 1.05)" font-size="9.8" fill="#262626" text-anchor="end">0.4</text>
<text transform="translate(33.0 401.08) scale(1 1.05)" font-size="9.8" fill="#262626" text-anchor="end">0.6</text>
<text transform="translate(33.0 368.54) scale(1 1.05)" font-size="9.8" fill="#262626" text-anchor="end">0.8</text>
<text transform="translate(33.0 336.00) scale(1 1.05)" font-size="9.8" fill="#262626" text-anchor="end">1</text>
<text x="229.6" y="523.0" font-size="10.75" fill="#262626" text-anchor="middle">Time Step (k)</text>
<text transform="translate(14.5 412.3) rotate(-90)" font-size="10.75" fill="#262626" text-anchor="middle">Mode Probability</text>
<path d="M40.7 411.0 L41.8 406.8 L42.8 404.4 L43.9 403.0 L45.0 402.1 L46.1 402.0 L47.1 401.7 L48.2 401.0 L49.3 400.5 L50.3 400.2 L51.4 400.2 L52.5 400.5 L53.5 400.4 L54.6 400.2 L55.7 400.7 L56.7 401.2 L57.8 401.4 L58.9 401.2 L59.9 401.1 L61.0 401.2 L62.1 401.2 L63.2 401.0 L64.2 400.8 L65.3 400.9 L66.4 401.3 L67.4 401.7 L68.5 401.7 L69.6 401.8 L70.6 401.9 L71.7 401.9 L72.8 401.8 L73.8 401.5 L74.9 400.9 L76.0 400.4 L77.0 400.7 L78.1 401.1 L79.2 401.5 L80.3 401.4 L81.3 401.1 L82.4 401.1 L83.5 401.1 L84.5 401.2 L85.6 401.3 L86.7 401.2 L87.7 400.9 L88.8 400.7 L89.9 400.8 L90.9 400.8 L92.0 400.8 L93.1 400.9 L94.2 400.9 L95.2 400.9 L96.3 400.8 L97.4 401.1 L98.4 402.0 L99.5 401.8 L100.6 401.6 L101.6 401.0 L102.7 400.8 L103.8 400.7 L104.8 400.9 L105.9 400.9 L107.0 400.9 L108.0 401.0 L109.1 401.1 L110.2 401.3 L111.3 401.5 L112.3 401.7 L113.4 401.5 L114.5 401.0 L115.5 400.7 L116.6 400.6 L117.7 400.7 L118.7 400.7 L119.8 400.8 L120.9 400.8 L121.9 400.6 L123.0 400.6 L124.1 400.9 L125.1 401.0 L126.2 400.7 L127.3 400.7 L128.4 400.8 L129.4 401.0 L130.5 401.0 L131.6 400.5 L132.6 400.4 L133.7 400.8 L134.8 401.0 L135.8 401.3 L136.9 401.5 L138.0 401.3 L139.0 400.9 L140.1 400.7 L141.2 400.7 L142.3 400.8 L143.3 400.8 L144.4 401.0 L145.5 401.8 L146.5 403.8 L147.6 403.2 L148.7 402.6 L149.7 401.8 L150.8 401.3 L151.9 400.9 L152.9 401.0 L154.0 401.3 L155.1 401.3 L156.1 401.3 L157.2 401.6 L158.3 401.7 L159.4 401.0 L160.4 400.4 L161.5 400.7 L162.6 401.2 L163.6 401.2 L164.7 400.6 L165.8 400.2 L166.8 400.3 L167.9 400.5 L169.0 400.4 L170.0 400.4 L171.1 400.5 L172.2 400.9 L173.2 401.0 L174.3 400.6 L175.4 400.4 L176.5 400.6 L177.5 401.1 L178.6 401.5 L179.7 401.6 L180.7 401.3 L181.8 401.1 L182.9 400.9 L183.9 400.8 L185.0 400.7 L186.1 400.8 L187.1 401.0 L188.2 400.9 L189.3 400.8 L190.4 400.9 L191.4 401.2 L192.5 401.5 L193.6 401.3 L194.6 400.8 L195.7 400.6 L196.8 401.0 L197.8 401.4 L198.9 401.5 L200.0 401.1 L201.0 400.6 L202.1 400.3 L203.2 400.7 L204.2 401.3 L205.3 401.4 L206.4 400.9 L207.5 400.9 L208.5 401.5 L209.6 402.1 L210.7 401.2 L211.7 400.2 L212.8 399.9 L213.9 400.5 L214.9 401.2 L216.0 401.7 L217.1 401.7 L218.1 401.7 L219.2 401.7 L220.3 401.9 L221.3 401.6 L222.4 400.9 L223.5 400.9 L224.6 401.5 L225.6 401.7 L226.7 401.2 L227.8 401.2 L228.8 401.5 L229.9 401.8 L231.0 401.9 L232.0 401.8 L233.1 401.5 L234.2 400.9 L235.2 400.6 L236.3 400.6 L237.4 401.0 L238.5 401.4 L239.5 401.5 L240.6 401.6 L241.7 401.8 L242.7 401.6 L243.8 400.9 L244.9 400.4 L245.9 400.3 L247.0 400.5 L248.1 400.8 L249.1 401.6 L250.2 402.6 L251.3 402.4 L252.3 402.3 L253.4 402.2 L254.5 402.0 L255.6 401.6 L256.6 401.3 L257.7 401.0 L258.8 400.7 L259.8 400.6 L260.9 400.6 L262.0 400.7 L263.0 401.2 L264.1 401.5 L265.2 401.2 L266.2 400.9 L267.3 400.6 L268.4 400.6 L269.4 400.6 L270.5 401.0 L271.6 401.4 L272.7 401.4 L273.7 401.4 L274.8 401.5 L275.9 401.2 L276.9 400.9 L278.0 400.7 L279.1 401.0 L280.1 401.6 L281.2 402.0 L282.3 402.0 L283.3 401.6 L284.4 401.3 L285.5 401.3 L286.6 401.3 L287.6 401.1 L288.7 401.2 L289.8 401.6 L290.8 401.8 L291.9 401.5 L293.0 401.0 L294.0 401.0 L295.1 401.2 L296.2 401.6 L297.2 402.3 L298.3 401.9 L299.4 401.7 L300.4 401.6 L301.5 401.6 L302.6 401.2 L303.7 400.7 L304.7 400.7 L305.8 401.0 L306.9 401.1 L307.9 401.1 L309.0 401.1 L310.1 401.2 L311.1 401.2 L312.2 401.2 L313.3 401.4 L314.3 401.6 L315.4 401.7 L316.5 401.5 L317.5 401.5 L318.6 401.7 L319.7 401.7 L320.8 401.5 L321.8 401.4 L322.9 401.0 L324.0 400.8 L325.0 401.0 L326.1 401.2 L327.2 401.3 L328.2 401.1 L329.3 401.0 L330.4 401.3 L331.4 401.7 L332.5 401.8 L333.6 401.8 L334.7 401.4 L335.7 400.9 L336.8 400.8 L337.9 400.7 L338.9 400.7 L340.0 400.8 L341.1 400.8 L342.1 401.0 L343.2 401.5 L344.3 401.7 L345.3 401.3 L346.4 400.8 L347.5 400.7 L348.5 400.9 L349.6 400.9 L350.7 401.0 L351.8 401.2 L352.8 401.3 L353.9 401.5 L355.0 401.8 L356.0 401.8 L357.1 401.4 L358.2 400.7 L359.2 400.1 L360.3 400.2 L361.4 401.0 L362.4 401.7 L363.5 401.7 L364.6 401.3 L365.6 400.8 L366.7 400.9 L367.8 401.1 L368.9 401.0 L369.9 401.1 L371.0 401.5 L372.1 401.5 L373.1 401.2 L374.2 401.0 L375.3 401.0 L376.3 401.1 L377.4 401.2 L378.5 401.3 L379.5 401.2 L380.6 400.8 L381.7 400.8 L382.8 401.2 L383.8 401.5 L384.9 401.4 L386.0 401.3 L387.0 401.3 L388.1 401.2 L389.2 401.2 L390.2 401.2 L391.3 401.9 L392.4 403.6 L393.4 402.5 L394.5 401.6 L395.6 401.0 L396.6 401.4 L397.7 401.5 L398.8 401.5 L399.9 401.6 L400.9 401.4 L402.0 401.1 L403.1 401.2 L404.1 401.5 L405.2 401.1 L406.3 400.6 L407.3 400.7 L408.4 401.2 L409.5 401.5 L410.5 401.5 L411.6 401.5 L412.7 401.3 L413.7 401.0 L414.8 400.7 L415.9 400.6 L417.0 400.9 L418.0 401.1 L419.1 401.0 L420.2 401.2 L421.2 401.3 L422.3 401.3" stroke="#0000ff" stroke-width="1.35" fill="none" stroke-linejoin="round"/>
<path d="M40.7 414.5 L41.8 418.7 L42.8 421.1 L43.9 422.5 L45.0 423.4 L46.1 423.5 L47.1 423.8 L48.2 424.5 L49.3 425.0 L50.3 425.3 L51.4 425.3 L52.5 425.0 L53.5 425.1 L54.6 425.3 L55.7 424.8 L56.7 424.3 L57.8 424.1 L58.9 424.3 L59.9 424.4 L61.0 424.3 L62.1 424.3 L63.2 424.5 L64.2 424.7 L65.3 424.6 L66.4 424.2 L67.4 423.8 L68.5 423.8 L69.6 423.7 L70.6 423.6 L71.7 423.6 L72.8 423.7 L73.8 424.0 L74.9 424.6 L76.0 425.1 L77.0 424.8 L78.1 424.4 L79.2 424.0 L80.3 424.1 L81.3 424.4 L82.4 424.4 L83.5 424.4 L84.5 424.3 L85.6 424.2 L86.7 424.3 L87.7 424.6 L88.8 424.8 L89.9 424.7 L90.9 424.7 L92.0 424.7 L93.1 424.6 L94.2 424.6 L95.2 424.6 L96.3 424.7 L97.4 424.4 L98.4 423.5 L99.5 423.7 L100.6 423.9 L101.6 424.5 L102.7 424.7 L103.8 424.8 L104.8 424.6 L105.9 424.6 L107.0 424.6 L108.0 424.5 L109.1 424.4 L110.2 424.2 L111.3 424.0 L112.3 423.8 L113.4 424.0 L114.5 424.5 L115.5 424.8 L116.6 424.9 L117.7 424.8 L118.7 424.8 L119.8 424.7 L120.9 424.7 L121.9 424.9 L123.0 424.9 L124.1 424.6 L125.1 424.5 L126.2 424.8 L127.3 424.8 L128.4 424.7 L129.4 424.5 L130.5 424.5 L131.6 425.0 L132.6 425.1 L133.7 424.7 L134.8 424.5 L135.8 424.2 L136.9 424.0 L138.0 424.2 L139.0 424.6 L140.1 424.8 L141.2 424.8 L142.3 424.7 L143.3 424.7 L144.4 424.5 L145.5 423.7 L146.5 421.7 L147.6 422.3 L148.7 422.9 L149.7 423.7 L150.8 424.2 L151.9 424.6 L152.9 424.5 L154.0 424.2 L155.1 424.2 L156.1 424.2 L157.2 423.9 L158.3 423.8 L159.4 424.5 L160.4 425.1 L161.5 424.8 L162.6 424.3 L163.6 424.3 L164.7 424.9 L165.8 425.3 L166.8 425.2 L167.9 425.0 L169.0 425.1 L170.0 425.1 L171.1 425.0 L172.2 424.6 L173.2 424.5 L174.3 424.9 L175.4 425.1 L176.5 424.9 L177.5 424.4 L178.6 424.0 L179.7 423.9 L180.7 424.2 L181.8 424.4 L182.9 424.6 L183.9 424.7 L185.0 424.8 L186.1 424.7 L187.1 424.5 L188.2 424.6 L189.3 424.7 L190.4 424.6 L191.4 424.3 L192.5 424.0 L193.6 424.2 L194.6 424.7 L195.7 424.9 L196.8 424.5 L197.8 424.1 L198.9 424.0 L200.0 424.4 L201.0 424.9 L202.1 425.2 L203.2 424.8 L204.2 424.2 L205.3 424.1 L206.4 424.6 L207.5 424.6 L208.5 424.0 L209.6 423.4 L210.7 424.3 L211.7 425.3 L212.8 425.6 L213.9 425.0 L214.9 424.3 L216.0 423.8 L217.1 423.8 L218.1 423.8 L219.2 423.8 L220.3 423.6 L221.3 423.9 L222.4 424.6 L223.5 424.6 L224.6 424.0 L225.6 423.8 L226.7 424.3 L227.8 424.3 L228.8 424.0 L229.9 423.7 L231.0 423.6 L232.0 423.7 L233.1 424.0 L234.2 424.6 L235.2 424.9 L236.3 424.9 L237.4 424.5 L238.5 424.1 L239.5 424.0 L240.6 423.9 L241.7 423.7 L242.7 423.9 L243.8 424.6 L244.9 425.1 L245.9 425.2 L247.0 425.0 L248.1 424.7 L249.1 423.9 L250.2 422.9 L251.3 423.1 L252.3 423.2 L253.4 423.3 L254.5 423.5 L255.6 423.9 L256.6 424.2 L257.7 424.5 L258.8 424.8 L259.8 424.9 L260.9 424.9 L262.0 424.8 L263.0 424.3 L264.1 424.0 L265.2 424.3 L266.2 424.6 L267.3 424.9 L268.4 424.9 L269.4 424.9 L270.5 424.5 L271.6 424.1 L272.7 424.1 L273.7 424.1 L274.8 424.0 L275.9 424.3 L276.9 424.6 L278.0 424.8 L279.1 424.5 L280.1 423.9 L281.2 423.5 L282.3 423.5 L283.3 423.9 L284.4 424.2 L285.5 424.2 L286.6 424.2 L287.6 424.4 L288.7 424.3 L289.8 423.9 L290.8 423.7 L291.9 424.0 L293.0 424.5 L294.0 424.5 L295.1 424.3 L296.2 423.9 L297.2 423.2 L298.3 423.6 L299.4 423.8 L300.4 423.9 L301.5 423.9 L302.6 424.3 L303.7 424.8 L304.7 424.8 L305.8 424.5 L306.9 424.4 L307.9 424.4 L309.0 424.4 L310.1 424.3 L311.1 424.3 L312.2 424.3 L313.3 424.1 L314.3 423.9 L315.4 423.8 L316.5 424.0 L317.5 424.0 L318.6 423.8 L319.7 423.8 L320.8 424.0 L321.8 424.1 L322.9 424.5 L324.0 424.7 L325.0 424.5 L326.1 424.3 L327.2 424.2 L328.2 424.4 L329.3 424.5 L330.4 424.2 L331.4 423.8 L332.5 423.7 L333.6 423.7 L334.7 424.1 L335.7 424.6 L336.8 424.7 L337.9 424.8 L338.9 424.8 L340.0 424.7 L341.1 424.7 L342.1 424.5 L343.2 424.0 L344.3 423.8 L345.3 424.2 L346.4 424.7 L347.5 424.8 L348.5 424.6 L349.6 424.6 L350.7 424.5 L351.8 424.3 L352.8 424.2 L353.9 424.0 L355.0 423.7 L356.0 423.7 L357.1 424.1 L358.2 424.8 L359.2 425.4 L360.3 425.3 L361.4 424.5 L362.4 423.8 L363.5 423.8 L364.6 424.2 L365.6 424.7 L366.7 424.6 L367.8 424.4 L368.9 424.5 L369.9 424.4 L371.0 424.0 L372.1 424.0 L373.1 424.3 L374.2 424.5 L375.3 424.5 L376.3 424.4 L377.4 424.3 L378.5 424.2 L379.5 424.3 L380.6 424.7 L381.7 424.7 L382.8 424.3 L383.8 424.0 L384.9 424.1 L386.0 424.2 L387.0 424.2 L388.1 424.3 L389.2 424.3 L390.2 424.3 L391.3 423.6 L392.4 421.9 L393.4 423.0 L394.5 423.9 L395.6 424.5 L396.6 424.1 L397.7 424.0 L398.8 424.0 L399.9 423.9 L400.9 424.1 L402.0 424.4 L403.1 424.3 L404.1 424.0 L405.2 424.4 L406.3 424.9 L407.3 424.8 L408.4 424.3 L409.5 424.0 L410.5 424.0 L411.6 424.0 L412.7 424.2 L413.7 424.5 L414.8 424.8 L415.9 424.9 L417.0 424.6 L418.0 424.4 L419.1 424.5 L420.2 424.3 L421.2 424.2 L422.3 424.2" stroke="#ff0000" stroke-width="1.35" fill="none" stroke-dasharray="4.2 3.3" stroke-linejoin="round"/>
<rect x="321.2" y="339.1" width="93.5" height="28.8" fill="#fff" stroke="#333" stroke-width="0.8"/>
<path d="M324 347.3H353.3" stroke="#0000ff" stroke-width="1.35"/>
<path d="M324 361.3H353.3" stroke="#ff0000" stroke-width="1.35" stroke-dasharray="5 2.7"/>
<text x="355.5" y="351.8" font-size="8.9" fill="#111">M1 (q<tspan dy="-3.6" font-size="7.1">2</tspan><tspan dy="3.6"> = 0.5</tspan><tspan dy="-3.6" font-size="7.1">2</tspan><tspan dy="3.6">)</tspan></text>
<text x="355.5" y="365.4" font-size="8.9" fill="#111">M2 (q<tspan dy="-3.6" font-size="7.1">2</tspan><tspan dy="3.6"> = 5</tspan><tspan dy="-3.6" font-size="7.1">2</tspan><tspan dy="3.6">)</tspan></text>
<text x="216.7" y="543" font-size="14.4" font-weight="bold" font-family="'Liberation Serif', serif" fill="#222" text-anchor="middle" letter-spacing="-0.5">(c)</text>
</svg>
</body></html>
